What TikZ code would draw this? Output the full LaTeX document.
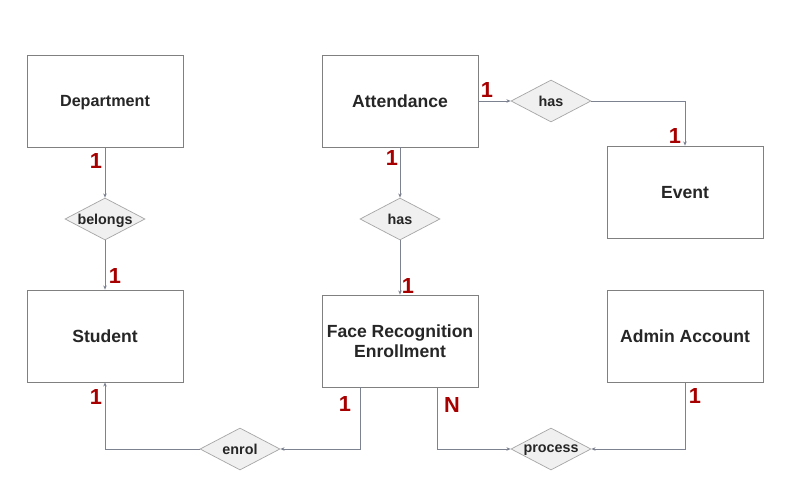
\documentclass[tikz,border=0pt]{standalone}
\usepackage{fontspec}
\setmainfont{Liberation Sans}
\usetikzlibrary{shapes.geometric,arrows.meta}

\definecolor{linkgray}{RGB}{125,130,145}
\definecolor{boxgray}{RGB}{128,128,128}

\tikzset{
  entity/.style={rectangle, draw=boxgray, line width=0.5pt, fill=white,
    minimum width=3.9cm, minimum height=2.3cm, align=center, text depth=0pt,
    font=\fontsize{12.5}{14.5}\selectfont\bfseries, text=black!85},
  rel/.style={diamond, draw=gray!70, line width=0.5pt, fill=gray!12,
    minimum width=2cm, minimum height=1.05cm, inner sep=0pt, text depth=0pt,
    font=\fontsize{10.2}{12}\selectfont\bfseries, text=black!85},
  card/.style={text=red!65!black, font=\fontsize{15.5}{17}\selectfont\bfseries},
  link/.style={draw=linkgray, line width=0.5pt, -{Stealth[length=3pt,width=2.5pt]}}
}

\begin{document}
\begin{tikzpicture}
\fill[white] (0,0) rectangle (20,12);
\useasboundingbox (0,0) rectangle (20,12);

\node[entity, font=\fontsize{11.5}{13}\selectfont\bfseries] (dept) at (2.625,9.475){Department};
\node[entity] (att) at (10,9.475){Attendance};
\node[entity] (event) at (17.125,7.2){Event};
\node[entity] (stud) at (2.625,3.6){Student};
\node[entity] (fre) at (10,3.475){Face Recognition\\Enrollment};
\node[entity] (admin) at (17.125,3.6){Admin Account};

\node[rel] (belongs) at (2.625,6.525){\makebox[0pt]{belongs}};
\node[rel] (has1) at (13.775,9.475){\makebox[0pt]{has}};
\node[rel] (has2) at (10,6.525){\makebox[0pt]{has}};
\node[rel] (enrol) at (6,0.775){\makebox[0pt]{enrol}};
\node[rel] (process) at (13.775,0.775){\makebox[0pt]{process}};

\foreach \from/\to in
{dept/belongs,belongs/stud,att/has2,has2/fre}
\draw[link] (\from) -- (\to);
\draw[link] (att) -- (has1);
\draw[link] (has1) -| (event);
\draw[link] ([xshift=-1cm]fre.south) |- (enrol);
\draw[link] (enrol) -| (stud);
\draw[link] ([xshift=0.925cm]fre.south) |- (process);
\draw[link] (admin) |- (process);

\node[card] (c1) at (2.4,7.975){1};
\node[card] (c2) at (2.875,5.1){1};
\node[card] (c3) at (12.175,9.75){1};
\node[card] (c4) at (16.875,8.6){1};
\node[card] (c5) at (9.8,8.05){1};
\node[card] (c6) at (10.2,4.85){1};
\node[card] (c7) at (2.4,2.075){1};
\node[card] (c8) at (8.625,1.9){1};
\node[card] (c9) at (11.3,1.875){N};
\node[card] (c10) at (17.375,2.1){1};
\end{tikzpicture}
\end{document}
